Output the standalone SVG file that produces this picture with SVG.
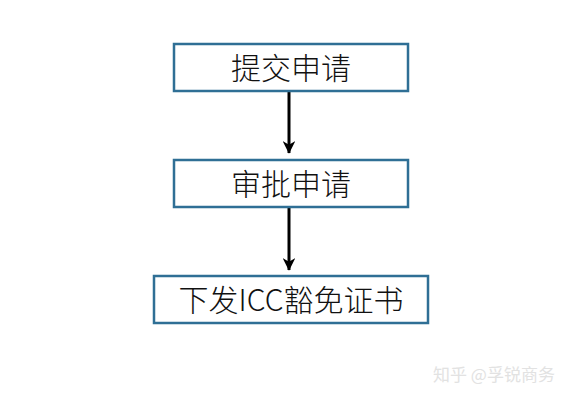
<svg xmlns="http://www.w3.org/2000/svg" width="576" height="402" viewBox="0 0 576 402">
<defs>
<style>
.box{fill:#fff;stroke:#2f6f95;stroke-width:2.5}
.t{font-family:"Noto Sans CJK SC","Liberation Sans",sans-serif;font-size:30px;font-weight:300;fill:#111;text-anchor:middle}
.c{stroke:#000;stroke-width:3;fill:none}
.wm{font-family:"Noto Sans CJK SC",sans-serif;font-size:17px;fill:#e2e2e2}
</style>
<marker id="ah" viewBox="0 0 10 10" refX="9.5" refY="5" markerWidth="4.2" markerHeight="4.2" orient="auto" markerUnits="strokeWidth">
<path d="M0,0 L10,5 L0,10 L3,5 Z" fill="#000"/>
</marker>
</defs>
<rect width="576" height="402" fill="#fff"/>
<g id="connectors">
<line class="c" x1="289" y1="91" x2="289" y2="153" marker-end="url(#ah)"/>
<line class="c" x1="289" y1="207" x2="289" y2="270" marker-end="url(#ah)"/>
</g>
<g id="n1"><rect class="box" x="174" y="44" width="234" height="47"/><text class="t" x="291" y="79">提交申请</text></g>
<g id="n2"><rect class="box" x="174" y="160" width="234" height="47"/><text class="t" x="291" y="195">审批申请</text></g>
<g id="n3"><rect class="box" x="154" y="276" width="274" height="47"/><text class="t" x="291" y="311">下发ICC豁免证书</text></g>
<text class="wm" x="433" y="381">知乎 @孚锐商务</text>
</svg>
